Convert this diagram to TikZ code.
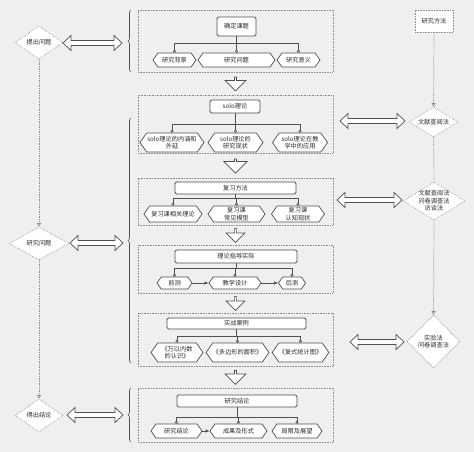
\documentclass[tikz,border=0pt]{standalone}
\usepackage{fontspec}
\setmainfont{Noto Sans CJK SC}
\usetikzlibrary{shapes.geometric,shapes.symbols,shapes.arrows,arrows.meta,decorations.pathreplacing,calc}
\definecolor{bgc}{HTML}{EFEFEF}
\definecolor{linec}{HTML}{505050}
\definecolor{dotc}{HTML}{8C8C8C}
\definecolor{txtc}{HTML}{2A2A2A}
\begin{document}
\begin{tikzpicture}[x=1pt,y=-1pt,
  font=\fontsize{6.2}{7.4}\selectfont, text=txtc,
  section/.style={draw=dotc, densely dotted, line width=0.6pt, minimum width=195pt, inner sep=0pt},
  topbox/.style={draw=linec, line width=0.8pt, fill=white, rounded corners=1.5pt, inner sep=0pt},
  hexa/.style={signal, signal to=west and east, signal pointer angle=110, draw=linec, line width=0.7pt, fill=white, inner sep=0pt, align=center},
  bus/.style={draw=linec, line width=0.7pt, -{Circle[open, length=3pt, width=3pt, fill=white]}},
  blockarrow/.style={single arrow, draw=linec, line width=0.7pt, fill=white, minimum height=14pt, single arrow head extend=3.5pt, single arrow tip angle=90, inner sep=0pt, rotate=-90},
  dblstyle/.style={draw=linec, line width=0.7pt, fill=white, line join=miter},
  pics/dblarr/.style={code={
    \draw[dblstyle] (-#1/2,0) -- (-#1/2+8,-7.5) -- (-#1/2+8,-2.5) -- (#1/2-8,-2.5) -- (#1/2-8,-7.5)
      -- (#1/2,0) -- (#1/2-8,7.5) -- (#1/2-8,2.5) -- (-#1/2+8,2.5) -- (-#1/2+8,7.5) -- cycle;
  }},
  dia/.style={diamond, draw=dotc, densely dotted, line width=0.6pt, fill=white, inner sep=0pt},
  vline/.style={draw=dotc, densely dotted, line width=0.7pt},
  vtip/.style={vline, -{Triangle[open, length=3.5pt, width=4pt, fill=white]}},
  bracec/.style={draw=linec, line width=0.6pt, decorate, decoration={brace, amplitude=3pt}},
  smallarr/.style={draw=linec, line width=0.6pt, -{Latex[length=4pt, width=3.5pt]}}
]
\fill[bgc] (0,0) rectangle (474,452);
\useasboundingbox (0,0) rectangle (474,452);

% sections
\node[section, minimum height=62pt] (s1) at (235.5,41) {};
\node[section, minimum height=58pt] (s2) at (235.5,124) {};
\node[section, minimum height=47pt] (s3) at (235.5,201.5) {};
\node[section, minimum height=48pt] (s4) at (235.5,269) {};
\node[section, minimum height=53pt] (s5) at (235.5,339.5) {};
\node[section, minimum height=54pt] (s6) at (235.5,415) {};

% block arrows between sections
\node[blockarrow, minimum width=21pt] (b12) at ($(s1.south)!.5!(s2.north)$) {};
\node[blockarrow, minimum width=23pt] (b23) at ($(s2.south)!.5!(s3.north)$) {};
\node[blockarrow, minimum width=19pt] (b34) at ($(s3.south)!.5!(s4.north)$) {};
\node[blockarrow, minimum width=19pt] (b45) at ($(s4.south)!.5!(s5.north)$) {};
\node[blockarrow, minimum width=21pt] (b56) at ($(s5.south)!.5!(s6.north)$) {};

% section 1
\node[topbox, minimum width=39pt, minimum height=19pt] (t1) at (236.5,26.5) {确定课题};
\node[hexa, minimum width=43pt, minimum height=14pt] (h11) at (174.5,60) {研究背景};
\node[hexa, minimum width=77pt, minimum height=14pt] (h12) at (236.5,60) {研究问题};
\node[hexa, minimum width=43pt, minimum height=14pt] (h13) at (298.5,60) {研究意义};
\draw[bus] (t1.south) -- ++(0,7) -| (h11.north);
\draw[bus] (t1.south) -- ++(0,7) -| (h12.north);
\draw[bus] (t1.south) -- ++(0,7) -| (h13.north);

% section 2
\node[topbox, minimum width=50pt, minimum height=13pt] (t2) at (235,106.5) {solo理论};
\node[hexa, minimum width=64pt, minimum height=19pt] (h21) at (172,142.5) {solo理论的内涵和\\外延};
\node[hexa, minimum width=55pt, minimum height=19pt] (h22) at (235.5,142.5) {solo理论的\\研究现状};
\node[hexa, minimum width=55pt, minimum height=19pt] (h23) at (300,142.5) {solo理论在教\\学中的应用};
\draw[bus] (t2.south) -- ++(0,11) -| (h21.north);
\draw[bus] (t2.south) -- ++(0,11) -| (h22.north);
\draw[bus] (t2.south) -- ++(0,11) -| (h23.north);

% section 3
\node[topbox, minimum width=121pt, minimum height=12pt] (t3) at (235.5,188) {复习方法};
\node[hexa, minimum width=58pt, minimum height=16pt] (h31) at (173,214) {复习课相关理论};
\node[hexa, minimum width=57pt, minimum height=16pt] (h32) at (236.5,214) {复习课\\常见模型};
\node[hexa, minimum width=53pt, minimum height=16pt] (h33) at (298,214) {复习课\\认知现状};
\draw[bus] (t3.south) -- ++(0,4) -| (h31.north);
\draw[bus] (t3.south) -- ++(0,4) -| (h32.north);
\draw[bus] (t3.south) -- ++(0,4) -| (h33.north);

% section 4
\node[topbox, minimum width=122pt, minimum height=13pt] (t4) at (236,256.5) {理论指导实际};
\node[hexa, minimum width=35pt, minimum height=12pt] (h41) at (174.5,283) {前测};
\node[hexa, minimum width=52pt, minimum height=12pt] (h42) at (235,283) {教学设计};
\node[hexa, minimum width=27pt, minimum height=12pt] (h43) at (292,283) {后测};
\draw[bus] (t4.south) -- ++(0,5) -| (h41.north);
\draw[bus] (t4.south) -- ++(0,5) -| (h42.north);
\draw[bus] (t4.south) -- ++(0,5) -| (h43.north);
\draw[smallarr] (h41.east) -- (h42.west);
\draw[smallarr] (h42.east) -- (h43.west);

% section 5
\node[topbox, minimum width=139pt, minimum height=11pt] (t5) at (236.5,323.5) {实战案例};
\node[hexa, minimum width=52pt, minimum height=19pt] (h51) at (177,352.5) {《万以内数\\的认识》};
\node[hexa, minimum width=62pt, minimum height=19pt] (h52) at (237.5,352.5) {《多边形的面积》};
\node[hexa, minimum width=54pt, minimum height=19pt] (h53) at (300.5,352.5) {《复式统计图》};
\draw[bus] (t5.south) -- ++(0,7) -| (h51.north);
\draw[bus] (t5.south) -- ++(0,7) -| (h52.north);
\draw[bus] (t5.south) -- ++(0,7) -| (h53.north);

% section 6
\node[topbox, minimum width=120pt, minimum height=12pt] (t6) at (237,401) {研究结论};
\node[hexa, minimum width=51pt, minimum height=14pt] (h61) at (176.5,431) {研究结论};
\node[hexa, minimum width=57pt, minimum height=14pt] (h62) at (238.5,431) {成果及形式};
\node[hexa, minimum width=50pt, minimum height=14pt] (h63) at (297,431) {局限及展望};
\draw[bus] (t6.south) -- ++(0,10) -| (h61.north);
\draw[bus] (t6.south) -- ++(0,10) -| (h62.north);
\draw[bus] (t6.south) -- ++(0,10) -| (h63.north);
\draw[smallarr] (h61.east) -- (h62.west);

% braces
\draw[bracec] (131,72) -- (131,10);
\draw[bracec] (131,363) -- (131,118);
\draw[bracec] (131,442) -- (131,388);

% left column
\node[dia, minimum width=48pt, minimum height=33pt, label={center:提出问题}] (d1) at (39,42.5) {};
\node[dia, minimum width=60pt, minimum height=33pt, label={center:研究问题}] (d2) at (39,243.5) {};
\node[dia, minimum width=48pt, minimum height=33pt, label={center:得出结论}] (d3) at (39,415.5) {};
\draw[vtip] (d1.south) -- (d2.north);
\draw[vtip] (d2.south) -- (d3.north);
\pic (a1) at (92.5,43) {dblarr=59};
\pic (a2) at (96.5,243) {dblarr=53};
\pic (a3) at (95,415) {dblarr=56};

% right column
\node[draw=dotc, densely dotted, line width=0.6pt, fill=white, minimum width=38pt, minimum height=22pt, inner sep=0pt] (m0) at (434,21) {研究方法};
\node[dia, minimum width=49pt, minimum height=30pt, label={center:文献查阅法}] (d4) at (433.5,122) {};
\node[dia, minimum width=62pt, minimum height=38pt, label={[align=center]center:文献查阅法\\问卷调查法\\访谈法}] (d5) at (434,201) {};
\node[dia, minimum width=53pt, minimum height=53pt, label={[align=center]center:实验法\\问卷调查法}] (d6) at (433.5,341.5) {};
\draw[vtip] (m0.south) -- (d4.north);
\draw[vline] (d4.south) -- (d5.north);
\draw[vtip] (d5.south) -- (d6.north);
\pic (a4) at (372.5,121) {dblarr=65};
\pic (a5) at (369.5,200) {dblarr=65};
\pic (a6) at (377,342) {dblarr=54};
\end{tikzpicture}
\end{document}
